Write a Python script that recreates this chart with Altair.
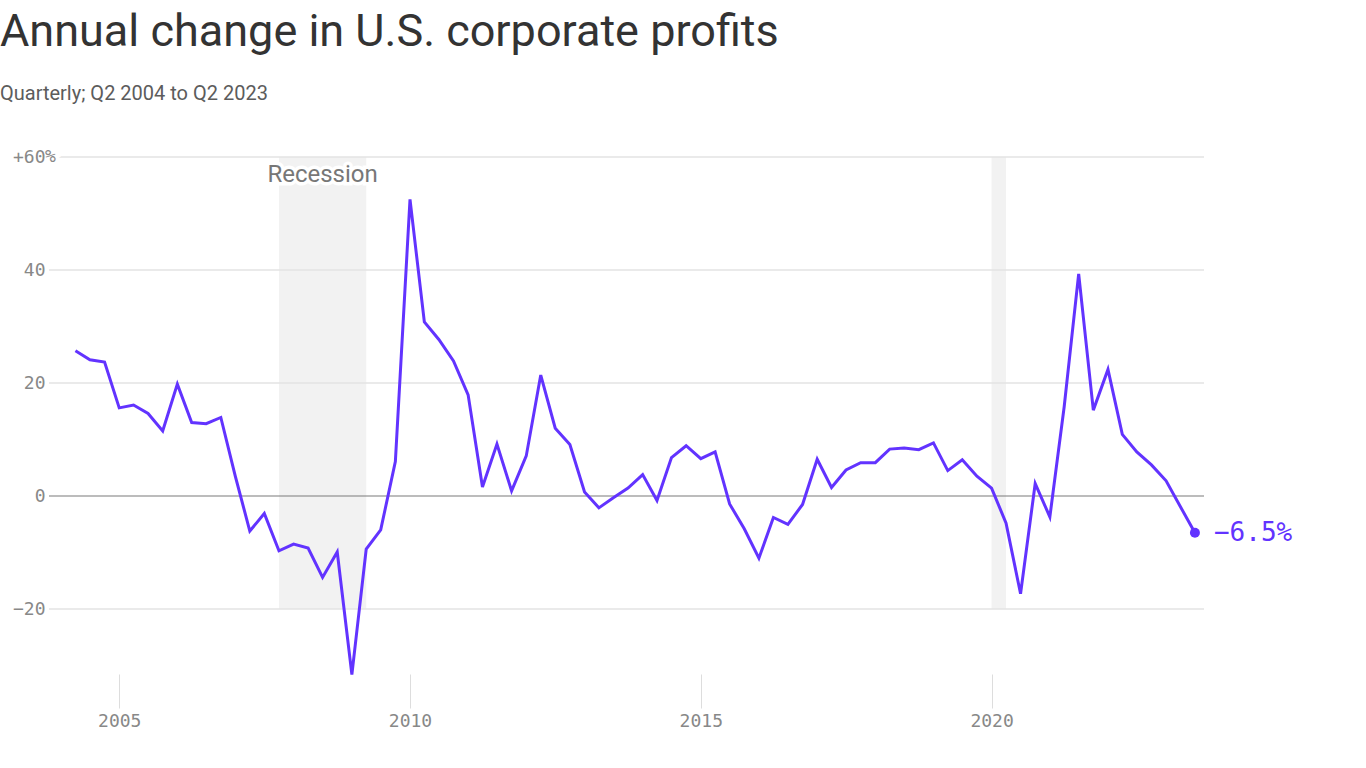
import altair as alt
import pandas as pd

# ---- data ----
first_quarter = "2004-04-01"
profit_change = [25.7, 24.1, 23.7, 15.6, 16.1, 14.6, 11.5, 19.8, 13.0, 12.8, 13.9, 3.4,
                 -6.2, -3.1, -9.7, -8.5, -9.2, -14.4, -9.9, -31.6, -9.4, -6.0, 6.1, 52.5,
                 30.8, 27.7, 23.9, 17.9, 1.6, 9.2, 0.9, 7.1, 21.4, 12.0, 9.1, 0.7,
                 -2.1, -0.3, 1.4, 3.8, -0.8, 6.8, 8.9, 6.6, 7.8, -1.4, -5.8, -11.0,
                 -3.8, -5.0, -1.5, 6.5, 1.5, 4.6, 5.9, 5.9, 8.3, 8.5, 8.2, 9.4,
                 4.5, 6.4, 3.5, 1.4, -4.8, -17.3, 2.2, -3.7, 15.8, 39.3, 15.2, 22.4,
                 10.9, 7.8, 5.5, 2.7, -1.9, -6.5]
recession_start = ["2007-10-01", "2020-01-01"]
recession_end = ["2009-04-01", "2020-04-01"]
recession_label = ["Recession", ""]
y_ticks = [60, 40, 20, 0, -20]
grid_ticks = [60, 40, 20, -20]
x_tick_years = [2005, 2010, 2015, 2020]
last_label = "\u22126.5%"

PURPLE = "#6233ff"
MONO = "DejaVu Sans Mono"
SANS = "Roboto"

dates = pd.date_range(first_quarter, periods=len(profit_change), freq="QS-JAN")
df = pd.DataFrame({"date": dates, "value": profit_change})
last = df.tail(1).assign(label=last_label)

rec = pd.DataFrame({
    "start": pd.to_datetime(recession_start),
    "end": pd.to_datetime(recession_end),
    "label": recession_label,
    "top": max(grid_ticks),
    "bottom": min(grid_ticks),
})
rec["mid"] = rec["start"] + (rec["end"] - rec["start"]) / 2
rec_lab = rec[rec["label"] != ""]

grid_df = pd.DataFrame({"v": grid_ticks})
zero_df = pd.DataFrame({"v": [0]})
pct_df = pd.DataFrame({"v": [max(y_ticks)], "t": ["%"]})

x_scale = alt.Scale(domain=[alt.DateTime(year=2003, month=10, date=18),
                            alt.DateTime(year=2023, month=8, date=27)])
y_scale = alt.Scale(domain=[-31.5, 60], nice=False, zero=False)

x_axis = alt.Axis(values=[alt.DateTime(year=y) for y in x_tick_years], format="%Y",
                  title=None, grid=False, domain=False, tickSize=34, tickColor="#dddddd",
                  tickWidth=1, labelPadding=4, labelFont=MONO, labelFontSize=18,
                  labelColor="#888888")
y_axis = alt.Axis(values=y_ticks, title=None, grid=False, domain=False, ticks=False,
                  labelPadding=4, labelFont=MONO, labelFontSize=18, labelColor="#888888",
                  zindex=1,
                  labelExpr="datum.value == 60 ? '+' + datum.label : datum.label")

X = alt.X("date:T", scale=x_scale, axis=x_axis)
Y = alt.Y("value:Q", scale=y_scale, axis=y_axis)

bands = alt.Chart(rec).mark_rect(color="#f2f2f2").encode(
    x=alt.X("start:T", scale=x_scale, axis=x_axis),
    x2="end:T",
    y=alt.Y("top:Q", scale=y_scale, axis=y_axis),
    y2="bottom:Q",
)

grid = alt.Chart(grid_df).mark_rule(color="#e3e3e3", strokeWidth=1.5).encode(
    y=alt.Y("v:Q", scale=y_scale)
)
zero = alt.Chart(zero_df).mark_rule(color="#7a7a7a", strokeWidth=1.2).encode(
    y=alt.Y("v:Q", scale=y_scale)
)

line = alt.Chart(df).mark_line(color=PURPLE, strokeWidth=3).encode(x=X, y=Y)
dot = alt.Chart(last).mark_point(filled=True, color=PURPLE, size=100, opacity=1).encode(x=X, y=Y)
dot_label = alt.Chart(last).mark_text(align="left", baseline="middle", dx=19, font=MONO,
                                      fontSize=26, color=PURPLE).encode(x=X, y=Y, text="label:N")

pct_halo = alt.Chart(pct_df).mark_text(align="left", baseline="middle", font=MONO, fontSize=18,
                                       color="#ffffff", stroke="#ffffff", strokeWidth=8).encode(
    x=alt.value(-4), y=alt.Y("v:Q", scale=y_scale), text="t:N")
pct = alt.Chart(pct_df).mark_text(align="left", baseline="middle", font=MONO, fontSize=18,
                                  color="#888888").encode(
    x=alt.value(-4), y=alt.Y("v:Q", scale=y_scale), text="t:N")

rec_halo = alt.Chart(rec_lab).mark_text(align="center", baseline="middle", dy=18, font=SANS,
                                        fontSize=24, color="#ffffff", stroke="#ffffff",
                                        strokeWidth=7).encode(
    x=alt.X("mid:T", scale=x_scale), y=alt.Y("top:Q", scale=y_scale), text="label:N")
rec_text = alt.Chart(rec_lab).mark_text(align="center", baseline="middle", dy=18, font=SANS,
                                        fontSize=24, color="#777777").encode(
    x=alt.X("mid:T", scale=x_scale), y=alt.Y("top:Q", scale=y_scale), text="label:N")

chart = alt.layer(bands, grid, zero, line, dot, dot_label, pct_halo, pct, rec_halo, rec_text).properties(
    width=1155,
    height=517,
    autosize=alt.AutoSizeParams(type="none"),
    padding={"left": 49, "top": 157, "right": 162, "bottom": 94},
    background="#ffffff",
    title=alt.TitleParams(
        text="Annual change in U.S. corporate profits",
        subtitle="Quarterly; Q2 2004 to Q2 2023",
        anchor="start", frame="group", dx=-49, offset=44,
        font=SANS, fontSize=45, fontWeight="normal", color="#333333",
        subtitleFont=SANS, subtitleFontSize=20, subtitleColor="#5c5c5c",
        subtitlePadding=29,
    ),
).configure_view(stroke=None)

chart.save("out.html", embed_options={"renderer": "svg", "actions": False})
